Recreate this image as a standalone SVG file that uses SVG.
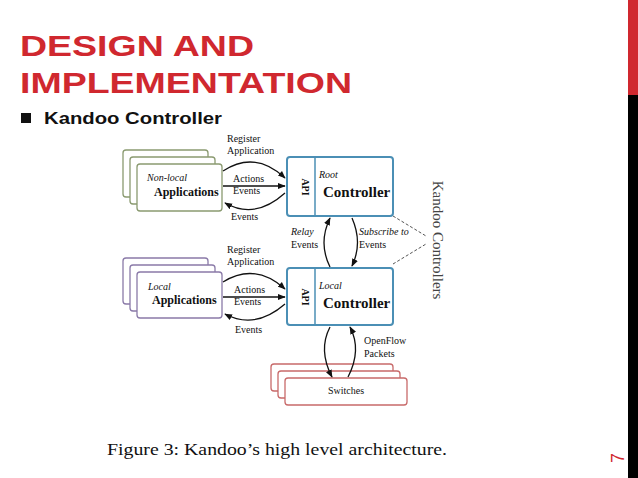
<svg xmlns="http://www.w3.org/2000/svg" width="638" height="478" viewBox="0 0 638 478">
<style>
.t{font-family:"Liberation Serif",serif;font-size:10px;fill:#111}
.i{font-style:italic}
.b{font-family:"Liberation Serif",serif;font-size:12px;font-weight:bold;fill:#111}
.c{font-family:"Liberation Serif",serif;font-size:15px;font-weight:bold;fill:#111}
.g{fill:#fff;stroke:#8a9a70;stroke-width:1.3}
.p{fill:#fff;stroke:#8a7aa8;stroke-width:1.3}
.r{fill:#fff;stroke:#c86a6a;stroke-width:1.3}
.ctl{fill:#fff;stroke:#4b8fb5;stroke-width:2}
.e{fill:none;stroke:#111;stroke-width:1.3;marker-end:url(#a)}
</style>
<defs><marker id="a" viewBox="0 0 10 10" refX="9" refY="5" markerWidth="6" markerHeight="6" orient="auto"><path d="M0,1 L10,5 L0,9 z" fill="#111"/></marker></defs>
<rect width="638" height="478" fill="#fff"/>
<rect x="628" y="0" width="10" height="95" fill="#d0282f"/>
<rect x="628" y="95" width="10" height="383" fill="#000"/>
<text x="20" y="56" font-family="Liberation Sans,sans-serif" font-size="30" font-weight="bold" fill="#d0282f" textLength="234" lengthAdjust="spacingAndGlyphs">DESIGN AND</text>
<text x="20" y="93" font-family="Liberation Sans,sans-serif" font-size="30" font-weight="bold" fill="#d0282f" textLength="332" lengthAdjust="spacingAndGlyphs">IMPLEMENTATION</text>
<rect x="21" y="113" width="10" height="10" fill="#111"/>
<text x="44" y="124" font-family="Liberation Sans,sans-serif" font-size="16" font-weight="bold" fill="#111" textLength="178" lengthAdjust="spacingAndGlyphs">Kandoo Controller</text>
<text transform="translate(624,458) rotate(-90)" font-family="Liberation Sans,sans-serif" font-size="18" fill="#d0282f" text-anchor="middle">7</text>
<g id="nonlocal"><rect class="g" x="123" y="150" width="85" height="47" rx="3"/><rect class="g" x="130" y="157" width="85" height="47" rx="3"/><rect class="g" x="137" y="164" width="85" height="47" rx="3"/><text class="t i" x="147" y="181">Non-local</text><text class="b" x="154" y="196">Applications</text></g>
<g id="local"><rect class="p" x="123" y="258" width="85" height="46" rx="3"/><rect class="p" x="130" y="265" width="85" height="46" rx="3"/><rect class="p" x="137" y="272" width="85" height="46" rx="3"/><text class="t i" x="148" y="290">Local</text><text class="b" x="152" y="304">Applications</text></g>
<g id="root"><rect class="ctl" x="287" y="157" width="106" height="59" rx="3"/><line x1="315" y1="157" x2="315" y2="216" stroke="#4b8fb5" stroke-width="1.5"/><text class="t" font-weight="bold" transform="translate(302,187) rotate(90)" text-anchor="middle">API</text><text class="t i" x="319" y="178">Root</text><text class="c" x="323" y="197">Controller</text></g>
<g id="localctl"><rect class="ctl" x="287" y="268" width="106" height="57" rx="3"/><line x1="315" y1="268" x2="315" y2="325" stroke="#4b8fb5" stroke-width="1.5"/><text class="t" font-weight="bold" transform="translate(302,297) rotate(90)" text-anchor="middle">API</text><text class="t i" x="319" y="289">Local</text><text class="c" x="323" y="308">Controller</text></g>
<g id="switches"><rect class="r" x="271" y="364" width="122" height="27" rx="3"/><rect class="r" x="278" y="371" width="122" height="27" rx="3"/><rect class="r" x="285" y="378" width="122" height="27" rx="3"/><text class="t" x="346" y="394" text-anchor="middle">Switches</text></g>
<g id="kandoo"><text transform="translate(433,240) rotate(90)" font-family="Liberation Serif,serif" font-size="15" fill="#444" text-anchor="middle">Kandoo Controllers</text></g>
<g id="connectors">
<path class="e" d="M223,171 Q255,150 285,178"/>
<path class="e" d="M223,186 L285,186"/>
<path class="e" d="M285,193 Q255,220 225,203"/>
<path class="e" d="M223,282 Q255,262 285,289"/>
<path class="e" d="M223,297 L285,297"/>
<path class="e" d="M285,304 Q255,330 225,314"/>
<path class="e" d="M330,267 Q318,243 330,218"/>
<path class="e" d="M352,218 Q363,243 352,266"/>
<path class="e" d="M330,327 Q318,350 332,377"/>
<path class="e" d="M348,377 Q362,350 350,327"/>
<path d="M393,216 L426,236 M393,264 L426,244" stroke="#555" stroke-width="1" stroke-dasharray="3,2" fill="none"/>
</g>
<g id="labels">
<text class="t" x="227" y="142">Register</text><text class="t" x="227" y="154">Application</text>
<text class="t" x="233" y="182">Actions</text><text class="t" x="233" y="194">Events</text>
<text class="t" x="231" y="220">Events</text>
<text class="t" x="227" y="253">Register</text><text class="t" x="227" y="265">Application</text>
<text class="t" x="234" y="293">Actions</text><text class="t" x="234" y="305">Events</text>
<text class="t" x="235" y="333">Events</text>
<text class="t i" x="291" y="235">Relay</text><text class="t" x="291" y="248">Events</text>
<text class="t i" x="359" y="235">Subscribe to</text><text class="t" x="359" y="248">Events</text>
<text class="t" x="364" y="344">OpenFlow</text><text class="t" x="364" y="357">Packets</text>
</g>
<text x="107" y="455" font-family="Liberation Serif,serif" font-size="17" fill="#111" textLength="340" lengthAdjust="spacingAndGlyphs">Figure 3:  Kandoo’s high level architecture.</text>
</svg>
